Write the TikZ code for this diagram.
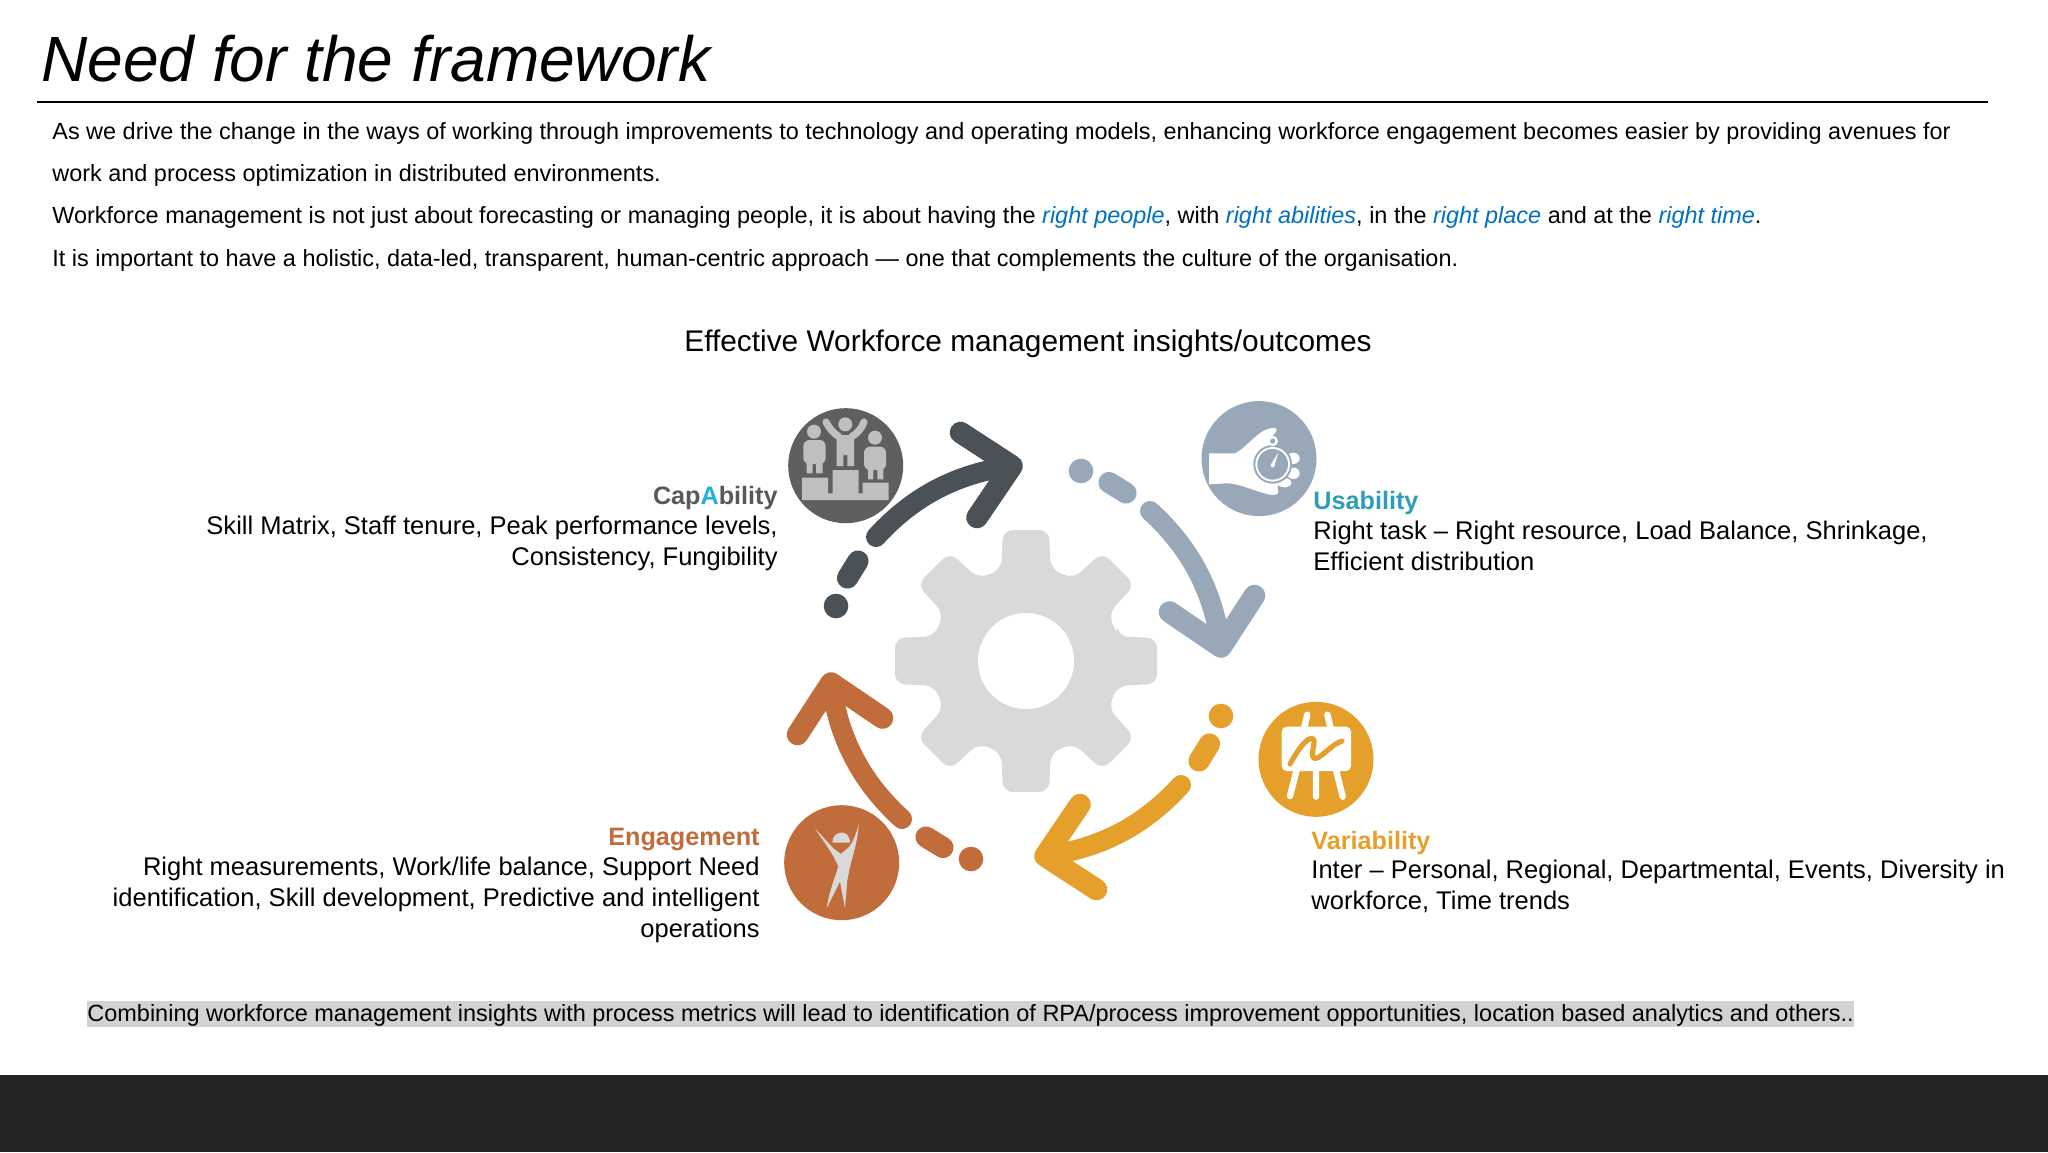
\documentclass[tikz,border=0pt]{standalone}
\usepackage{fontspec}
\setmainfont{Liberation Sans}
\definecolor{arrdark}{HTML}{4A5257}
\definecolor{arrblue}{HTML}{98A8B8}
\definecolor{arramber}{HTML}{E5A02B}
\definecolor{arrorange}{HTML}{C06C3B}
\definecolor{icondark}{HTML}{5F5F5F}
\definecolor{iconlight}{HTML}{BFBFBF}
\definecolor{gearc}{HTML}{D9D9D9}
\definecolor{linkc}{HTML}{0070C0}
\definecolor{footc}{HTML}{252525}
\definecolor{usec}{HTML}{2E9DB8}
\definecolor{capa}{HTML}{1FB0DC}
\definecolor{capc}{HTML}{595959}
\definecolor{hlc}{HTML}{D2D2D2}
\tikzset{
  bodytxt/.style={anchor=base west,inner sep=0pt,font=\fontsize{11.72}{14}\selectfont,text=black},
  labtxt/.style={inner sep=0pt,font=\fontsize{12.76}{15.35}\selectfont,text=black},
  headtxt/.style={inner sep=0pt,font=\fontsize{12.6}{15}\selectfont\bfseries},
  iconcirc/.style={radius=57.5}
}
\begin{document}
\begin{tikzpicture}[x=0.5pt,y=-0.5pt,line cap=round,line join=round]
\useasboundingbox (0,0) rectangle (2048,1152);
\fill[white] (0,0) rectangle (2048,1152);
\fill[footc] (0,1075) rectangle (2048,1152);
\draw[black,line width=1pt,line cap=butt] (37,101.5) -- (1988,101.5);

\node (title) [anchor=base west,inner sep=0pt,font=\fontsize{32}{36}\selectfont\itshape] at (41,81) {Need for the framework};
\node (b1) [bodytxt] at (52,139) {As we drive the change in the ways of working through improvements to technology and operating models, enhancing workforce engagement becomes easier by providing avenues for};
\node (b2) [bodytxt] at (52,181) {work and process optimization in distributed environments.};
\node (b3) [bodytxt] at (52,223.5) {Workforce management is not just about forecasting or managing people, it is about having the {\color{linkc}\itshape right people}, with {\color{linkc}\itshape right abilities}, in the {\color{linkc}\itshape right place} and at the {\color{linkc}\itshape right time}.};
\node (b4) [bodytxt] at (52,266) {It is important to have a holistic, data-led, transparent, human-centric approach — one that complements the culture of the organisation.};
\node (sub) [anchor=base,inner sep=0pt,font=\fontsize{14.92}{18}\selectfont] at (1028,351) {Effective Workforce management insights/outcomes};

% gear
\begin{scope}[shift={(1026,661)}]
\fill[gearc,rounded corners=5pt] (0-15:95)
  \foreach \a in {0,45,...,315}{ -- (\a-15:95) -- (\a-10:133) -- (\a+10:133) -- (\a+15:95) } -- cycle;
\fill[white] (0,0) circle[radius=48];
\end{scope}

% arrows, each the previous one turned a quarter
\foreach \r/\c/\dx/\dy in {0/arrdark/0/0,-90/arrblue/0/0,-180/arramber/5/0,-270/arrorange/0/8}{
\begin{scope}[shift={(1026+\dx,661+\dy)},rotate=\r]
\draw[\c,line width=10pt] (-150,-124) .. controls (-110,-168) and (-65,-188) .. (-14,-195);
\draw[\c,line width=10.8pt] (-65.5,-228.5) -- (-14,-195) -- (-49,-143.5);
\draw[\c,line width=10.6pt] (-168,-100) -- (-178.5,-83);
\fill[\c] (-190,-55) circle[radius=12.3];
\end{scope}
}

% capability icon
\fill[icondark] (845.7,465.7) circle[iconcirc];
\begin{scope}[shift={(770,390)},scale=1/3,iconlight]
\fill (96,263) rectangle (174,330) (188,240) rectangle (266,330) (278,278) rectangle (356,330) (174,310) rectangle (188,330) (266,310) rectangle (278,330);
\fill (132,125) circle[radius=21] (226,103) circle[radius=21] (315,143) circle[radius=21];
\fill[rounded corners=3pt] (100,222) -- (100,150) -- (167,150) -- (167,222) -- cycle;
\fill (110,205) rectangle (128,250) (138,205) rectangle (158,250);
\fill[rounded corners=3pt] (282,240) -- (282,170) -- (348,170) -- (348,240) -- cycle;
\fill (294,225) rectangle (310,268) (322,225) rectangle (340,268);
\fill (200,135) rectangle (252,195) (200,190) rectangle (220,228) (232,190) rectangle (252,228);
\draw[iconlight,line width=3.6pt] (168,96) .. controls (178,115) and (190,130) .. (207,140) (282,96) .. controls (275,115) and (262,130) .. (245,140);
\end{scope}

% usability icon
\fill[arrblue] (1259,458.6) circle[iconcirc];
\begin{scope}[shift={(1195,415)},scale=1/3]
\fill[white] (42,115) -- (120,115) .. controls (150,100) and (175,65) .. (205,48) .. controls (220,40) and (240,35) .. (245,42) .. controls (245,55) and (230,62) .. (222,72) -- (260,200) .. controls (240,210) and (250,225) .. (250,232) .. controls (248,242) and (232,240) .. (220,238) .. controls (175,228) and (135,205) .. (95,205) -- (42,208) -- cycle;
\fill[white] (295,130) ellipse[x radius=19,y radius=17] (295,175) ellipse[x radius=19,y radius=17] (268,203) ellipse[x radius=21,y radius=14];
\fill[arrblue] (233,148) circle[radius=58];
\fill[white] (233,148) circle[radius=52];
\fill[arrblue] (233,148) circle[radius=46];
\fill[white] (229,146) -- (250,113) -- (238,152) -- cycle;
\fill[white] (233,151) circle[radius=6];
\draw[white,line width=1.2pt,fill=arrblue] (233,78) circle[radius=12];
\end{scope}

% variability icon
\fill[arramber] (1316,759.3) circle[iconcirc];
\begin{scope}[shift={(1240,690)},scale=1/3]
\draw[white,line width=3.2pt] (202,74) -- (192,115) (262,74) -- (272,115) (170,240) -- (150,318) (228,240) -- (228,320) (288,240) -- (308,320);
\fill[white,rounded corners=2.5pt] (125,110) rectangle (333,243);
\draw[arramber,line width=2.6pt] (150,222) .. controls (170,185) and (200,140) .. (218,146) .. controls (232,152) and (205,205) .. (225,205) .. controls (245,205) and (270,165) .. (306,153);
\end{scope}

% engagement icon
\fill[arrorange] (841.7,862.7) circle[iconcirc];
\begin{scope}[shift={(770,790)},scale=1/3]
\fill[gearc] (135,115) -- (190,175) -- (213,192) -- (238,170) .. controls (252,150) and (260,125) .. (266,103) .. controls (264,150) and (250,190) .. (240,230) -- (232,270) -- (225,355) -- (210,275) -- (170,355) .. controls (176,310) and (195,260) .. (205,230) .. controls (190,190) and (160,155) .. (135,115) -- cycle;
\fill[gearc] (187,158) .. controls (187,120) and (240,115) .. (240,158) -- cycle;
\end{scope}

% labels
\node (capH) [headtxt,anchor=base east,text=capc] at (778,504) {Cap{\color{capa}A}bility};
\node (capT) [labtxt,anchor=north east,align=right] at (778,516) {Skill Matrix, Staff tenure, Peak performance levels,\\Consistency, Fungibility};
\node (useH) [headtxt,anchor=base west,text=usec] at (1313,509) {Usability};
\node (useT) [labtxt,anchor=north west,align=left] at (1313,520.5) {Right task – Right resource, Load Balance, Shrinkage,\\Efficient distribution};
\node (varH) [headtxt,anchor=base west,text=arramber] at (1311,849) {Variability};
\node (varT) [labtxt,anchor=north west,align=left] at (1311,860) {Inter – Personal, Regional, Departmental, Events, Diversity in\\workforce, Time trends};
\node (engH) [headtxt,anchor=base east,text=arrorange] at (760,845) {Engagement};
\node (engT) [labtxt,anchor=north east,align=right] at (760,857) {Right measurements, Work/life balance, Support Need\\identification, Skill development, Predictive and intelligent\\operations};

\node (note) [anchor=base west,fill=hlc,inner xsep=0pt,inner ysep=0pt,text height=10.25pt,text depth=2.75pt,font=\fontsize{11.74}{14}\selectfont] at (87,1021) {Combining workforce management insights with process metrics will lead to identification of RPA/process improvement opportunities, location based analytics and others..};
\end{tikzpicture}
\end{document}
